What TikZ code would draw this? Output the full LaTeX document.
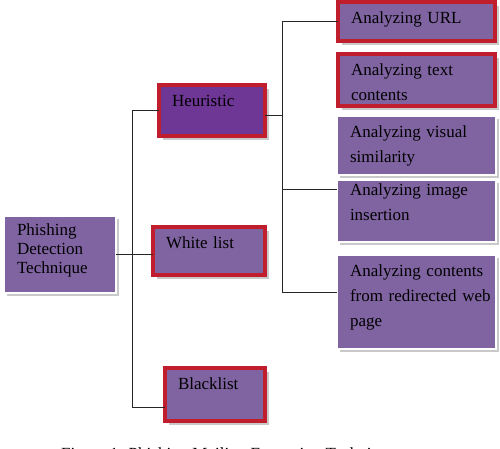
\documentclass[tikz,border=0pt]{standalone}
\usepackage{fontspec}
\setmainfont{Liberation Serif}
\usetikzlibrary{shadows}

\definecolor{boxfill}{RGB}{128,100,162}
\definecolor{heufill}{RGB}{110,55,150}
\definecolor{framered}{RGB}{192,30,45}

\begin{document}
\begin{tikzpicture}[
  x=1pt, y=-1pt,
  boxshadow/.style={drop shadow={shadow xshift=#1, shadow yshift=-#1, fill=black!30, opacity=.7}},
  box/.style={rectangle, anchor=north west, fill=boxfill, outer sep=0pt,
              inner xsep=13pt, inner ysep=9pt, text height=12pt, align=left,
              font=\fontsize{17}{25}\selectfont},
  redbox/.style={box, draw=framered, line width=4pt, boxshadow=3.5pt},
  plainbox/.style={box, draw=white, line width=2pt, boxshadow=2.5pt},
  conn/.style={draw=black!85, line width=0.8pt}
]
\useasboundingbox (0,0) rectangle (500,448);
\clip (0,0) rectangle (500,448);

% left column
\node[plainbox, text width=86pt, font=\fontsize{17}{19}\selectfont,
      text height=10pt, text depth=49pt] (root) at (4,216) {Phishing\\Detection\\Technique};
\node[redbox, fill=heufill, text width=80pt, text depth=21pt] (heu) at (159,85) {Heuristic};
\node[redbox, text width=86pt, text depth=18pt] (wl) at (153,227) {White list};
\node[redbox, text width=74pt, text depth=23pt] (blk) at (165,368) {Blacklist};

% right column
\node[redbox, text width=131pt, text depth=9pt] (url) at (338,2) {Analyzing URL};
\node[redbox, text width=131pt, text depth=22pt] (txt) at (338,54) {Analyzing text\\contents};
\node[plainbox, text width=133pt, text depth=29pt] (vis) at (337,116) {Analyzing visual\\similarity};
\node[plainbox, text width=133pt, text height=6pt, text depth=38pt] (img) at (337,180) {Analyzing image\\insertion};
\node[plainbox, text width=133pt, text depth=64pt] (redir) at (337,255)
  {\makebox[138pt][s]{Analyzing contents}\\\mbox{from redirected web}\\page};

% connectors
\coordinate (trunk) at (132,0);
\coordinate (branch) at (282,0);
\coordinate (blkin) at ([yshift=-12.5pt]blk.west);
\coordinate (heuout) at ([yshift=-4.5pt]heu.east);
\coordinate (imgin) at ([yshift=22pt]img.west);
\coordinate (redin) at ([yshift=10pt]redir.west);

\draw[conn] (root.east) -- (root.east -| wl.west);
\draw[conn] (heu.west) -| (trunk |- blkin) -- (blkin);
\draw[conn] (url.west) -| (branch |- redin) -- (redin);
\draw[conn] (heuout) -- (branch |- heuout);
\draw[conn] (imgin) -- (branch |- imgin);

% caption, cut by the lower edge as in the source
\node[font=\fontsize{17}{20}\selectfont, anchor=base] (cap) at (232,459)
  {Figure 1: Phishing Mailing Extraction Techniques};
\end{tikzpicture}
\end{document}
